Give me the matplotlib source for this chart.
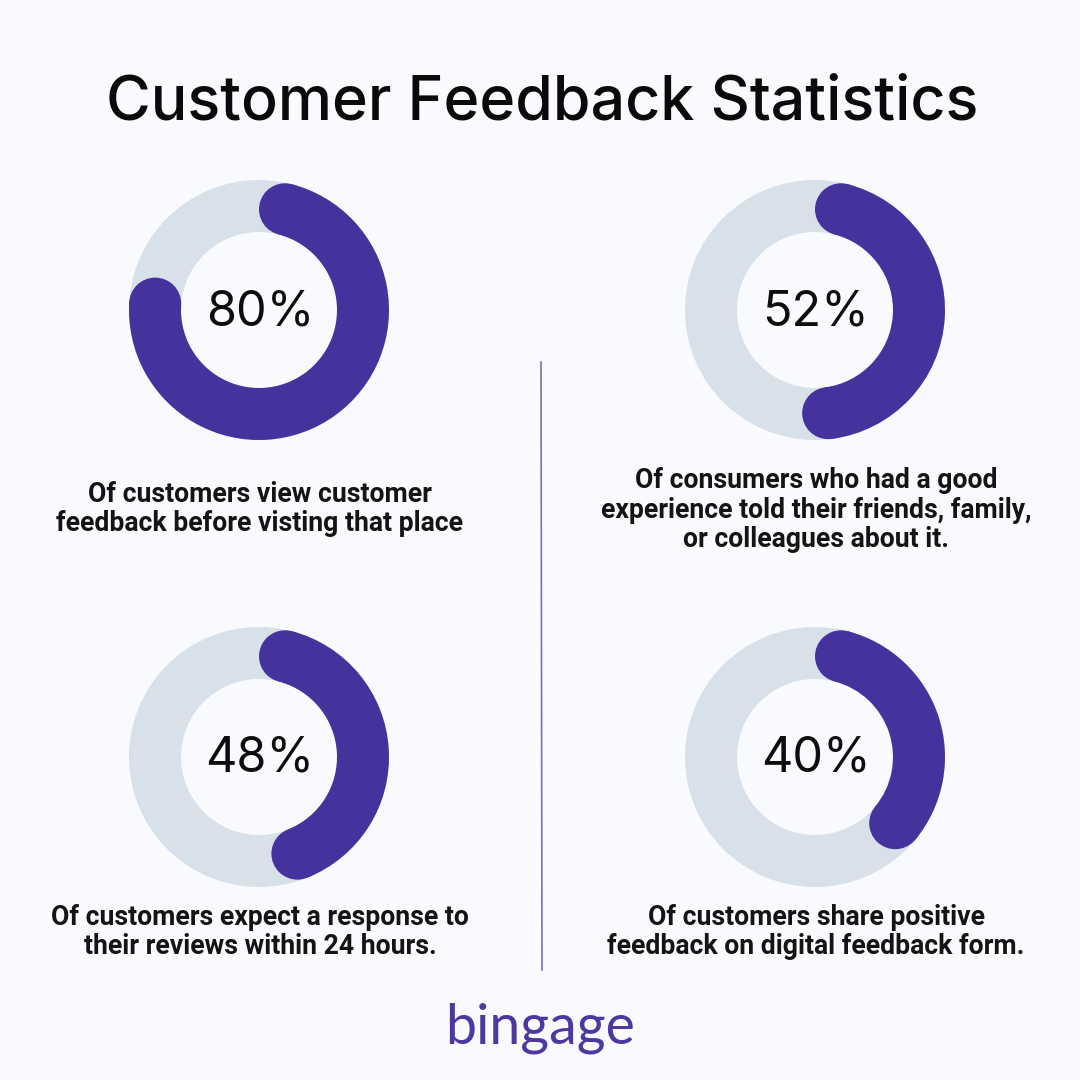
import matplotlib.pyplot as plt
from matplotlib.patches import Wedge, Circle
import numpy as np

title = "Customer Feedback Statistics"
percents = [80, 52, 48, 40]
captions = [
    "Of customers view customer\nfeedback before visting that place",
    "Of consumers who had a good\nexperience told their friends, family,\nor colleagues about it.",
    "Of customers expect a response to\ntheir reviews within 24 hours.",
    "Of customers share positive\nfeedback on digital feedback form.",
]

bg = "#f8fafd"
purple = "#46329c"
ring = "#d8e1ea"

fig = plt.figure(figsize=(10.8, 10.8), dpi=100, facecolor=bg)
ax = fig.add_axes([0, 0, 1, 1])
ax.set_xlim(0, 1080)
ax.set_ylim(1080, 0)
ax.set_aspect("equal")
ax.axis("off")

centers = [(259, 310), (815, 310), (259, 757), (815, 757)]
caption_y = [509, 510, 932, 932]
R, W = 130, 52
rm = R - W / 2
cap_deg = np.degrees(np.arcsin((W / 2) / rm))

for (cx, cy), p, cap, ty in zip(centers, percents, captions, caption_y):
    # y axis is inverted: angle measured clockwise from +x on screen
    ax.add_patch(Wedge((cx, cy), R, 0, 360, width=W, color=ring, lw=0))
    span = p / 100 * 360
    a0 = -90 + cap_deg
    a1 = -90 + span - cap_deg
    ax.add_patch(Wedge((cx, cy), R, a0, a1, width=W, color=purple, lw=0))
    for a in (a0, a1):
        t = np.radians(a)
        ax.add_patch(Circle((cx + rm * np.cos(t), cy + rm * np.sin(t)), W / 2,
                            color=purple, lw=0))
    ax.text(cx + 1, cy + 2, f"{p}%", ha="center", va="center", fontsize=35,
            family="Inter", color="#0d0d0d")
    ax.text(cx + 1, ty, cap, ha="center", va="center", fontsize=19.2,
            family="Roboto", weight="bold", color="#141414", linespacing=1.12)

ax.text(542, 104, title, ha="center", va="center", fontsize=43.9,
        family="Inter", weight="medium", color="#0a0a0a")

ax.plot([541, 542], [362, 970], color="#7c6cc0", lw=1.2)

ax.text(540, 1028, "bingage", ha="center", va="center", fontsize=40,
        family="Lato", weight="regular", color="#4f37a0")

fig.savefig("out.png", dpi=100, facecolor=bg)
